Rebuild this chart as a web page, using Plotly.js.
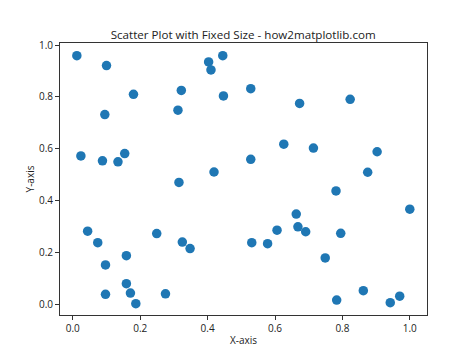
<!DOCTYPE html>
<html>
<head>
<meta charset="utf-8">
<script src="https://cdn.plot.ly/plotly-3.0.1.min.js"></script>
<style>html,body{margin:0;padding:0;background:#fff;}#chart{width:474px;height:355px;}</style>
</head>
<body>
<div id="chart"></div>
<script>
const xValues = [0.012, 0.100, 0.180, 0.095, 0.024, 0.088, 0.134, 0.154, 0.312, 0.322,
  0.403, 0.410, 0.445, 0.447, 0.419, 0.315,
  0.528, 0.673, 0.823, 0.626, 0.714, 0.903, 0.528, 0.875,
  0.044, 0.074, 0.097, 0.159, 0.159, 0.171, 0.097, 0.187, 0.249, 0.275, 0.325, 0.348,
  0.781, 1.000, 0.663, 0.668, 0.691, 0.606, 0.531, 0.578, 0.795, 0.749, 0.862, 0.783, 0.942, 0.970];
const yValues = [0.959, 0.921, 0.810, 0.732, 0.573, 0.554, 0.550, 0.582, 0.749, 0.825,
  0.935, 0.904, 0.959, 0.804, 0.511, 0.471,
  0.832, 0.775, 0.791, 0.618, 0.603, 0.589, 0.560, 0.510,
  0.283, 0.239, 0.153, 0.189, 0.081, 0.045, 0.040, 0.004, 0.274, 0.042, 0.241, 0.216,
  0.438, 0.368, 0.349, 0.300, 0.281, 0.287, 0.239, 0.235, 0.275, 0.180, 0.054, 0.018, 0.008, 0.033];
const xTicks = [0, 0.2, 0.4, 0.6, 0.8, 1.0];
const yTicks = [0, 0.2, 0.4, 0.6, 0.8, 1.0];
const titleText = 'Scatter Plot with Fixed Size - how2matplotlib.com';
const xLabel = 'X-axis';
const yLabel = 'Y-axis';

const fontFam = '"Open Sans", "Noto Sans", sans-serif';
const axisCommon = {
  showgrid: false, zeroline: false, showline: true, mirror: true,
  linecolor: '#333', linewidth: 1,
  ticks: 'outside', ticklen: 4, tickcolor: '#333', tickwidth: 1,
  tickformat: '.1f', tickfont: {family: fontFam, size: 10, color: '#222'}
};
Plotly.newPlot('chart', [{
  type: 'scatter', mode: 'markers', x: xValues, y: yValues,
  marker: {size: 9.5, color: '#1f77b4'}
}], {
  width: 474, height: 355,
  margin: {l: 60, r: 47, t: 43, b: 40},
  paper_bgcolor: '#fff', plot_bgcolor: '#fff',
  showlegend: false,
  title: {text: titleText, font: {family: fontFam, size: 11.6, color: '#222'}, x: 0.513, xanchor: 'center', y: 0.901, yanchor: 'middle', yref: 'container'},
  xaxis: Object.assign({}, axisCommon, {range: [-0.038, 1.051], tickvals: xTicks,
    title: {text: xLabel, font: {family: fontFam, size: 10, color: '#222'}, standoff: 2}}),
  yaxis: Object.assign({}, axisCommon, {range: [-0.0396, 1.0077], tickvals: yTicks,
    title: {text: yLabel, font: {family: fontFam, size: 10, color: '#222'}, standoff: 2}})
}, {staticPlot: true, displayModeBar: false});
</script>
</body>
</html>
